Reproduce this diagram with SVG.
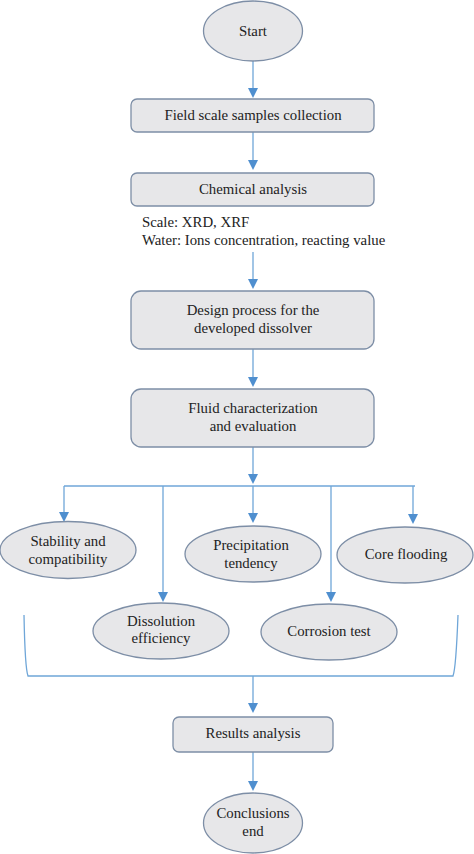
<svg xmlns="http://www.w3.org/2000/svg" width="474" height="854" viewBox="0 0 474 854">
<style>
.n{fill:#e7e7e9;stroke:#7d8ea6;stroke-width:1.3}
.t{font-family:'Liberation Serif','Times New Roman',serif;font-size:14.8px;fill:#222;text-anchor:middle}
.l{font-family:'Liberation Serif','Times New Roman',serif;font-size:14.8px;fill:#222}
.c{stroke:#6fa6d8;stroke-width:1.3;fill:none}
.a{fill:#4f8fcf}
</style>
<defs>
<path id="ah" d="M-5,-10 L5,-10 L0,0 Z"/>
</defs>
<rect width="474" height="854" fill="#fff"/>
<g id="connectors">
<line class="c" x1="253" y1="61" x2="253" y2="90"/><use href="#ah" class="a" x="253" y="98"/>
<line class="c" x1="253" y1="132" x2="253" y2="162"/><use href="#ah" class="a" x="253" y="170"/>
<line class="c" x1="253" y1="252" x2="253" y2="281"/><use href="#ah" class="a" x="253" y="289"/>
<line class="c" x1="253" y1="349" x2="253" y2="379"/><use href="#ah" class="a" x="253" y="387"/>
<line class="c" x1="253" y1="447" x2="253" y2="476"/><use href="#ah" class="a" x="253" y="484"/>
<line class="c" x1="64" y1="486" x2="415" y2="486"/>
<line class="c" x1="64" y1="486" x2="64" y2="514"/><use href="#ah" class="a" x="64" y="522"/>
<line class="c" x1="163" y1="486" x2="163" y2="594"/><use href="#ah" class="a" x="163" y="602"/>
<line class="c" x1="253" y1="486" x2="253" y2="515"/><use href="#ah" class="a" x="253" y="523"/>
<line class="c" x1="331" y1="486" x2="331" y2="594"/><use href="#ah" class="a" x="331" y="602"/>
<line class="c" x1="413" y1="486" x2="413" y2="516"/><use href="#ah" class="a" x="413" y="524"/>
<path class="c" d="M24,615 Q25,668 28,676 L453,676 Q456,668 458,615"/>
<line class="c" x1="253" y1="676" x2="253" y2="705"/><use href="#ah" class="a" x="253" y="713"/>
<line class="c" x1="253" y1="752" x2="253" y2="783"/><use href="#ah" class="a" x="253" y="791"/>
</g>
<g id="start">
<ellipse class="n" cx="253" cy="31" rx="49.5" ry="30"/>
<text class="t" x="253" y="36">Start</text>
</g>
<g id="field">
<rect class="n" x="131" y="99" width="243" height="33" rx="6"/>
<text class="t" x="253" y="119.5">Field scale samples collection</text>
</g>
<g id="chemical">
<rect class="n" x="131" y="173" width="243" height="33" rx="6"/>
<text class="t" x="253" y="194">Chemical analysis</text>
<text class="l" x="142" y="227">Scale: XRD, XRF</text>
<text class="l" x="142" y="245">Water: Ions concentration, reacting value</text>
</g>
<g id="design">
<rect class="n" x="131" y="291" width="243" height="58" rx="10"/>
<text class="t" x="253" y="315">Design process for the</text>
<text class="t" x="253" y="333">developed dissolver</text>
</g>
<g id="fluid">
<rect class="n" x="131" y="389" width="243" height="58" rx="10"/>
<text class="t" x="253" y="413">Fluid characterization</text>
<text class="t" x="253" y="431">and evaluation</text>
</g>
<g id="stability">
<ellipse class="n" cx="68" cy="550" rx="68" ry="28.5"/>
<text class="t" x="68" y="546">Stability and</text>
<text class="t" x="68" y="564">compatibility</text>
</g>
<g id="precipitation">
<ellipse class="n" cx="253" cy="554" rx="68" ry="28"/>
<text class="t" x="251" y="550">Precipitation</text>
<text class="t" x="251" y="568">tendency</text>
</g>
<g id="core">
<ellipse class="n" cx="405" cy="555" rx="68" ry="28"/>
<text class="t" x="406" y="559">Core flooding</text>
</g>
<g id="dissolution">
<ellipse class="n" cx="161" cy="631" rx="68" ry="28"/>
<text class="t" x="161" y="626">Dissolution</text>
<text class="t" x="161" y="643">efficiency</text>
</g>
<g id="corrosion">
<ellipse class="n" cx="329" cy="632" rx="68" ry="28"/>
<text class="t" x="329" y="636">Corrosion test</text>
</g>
<g id="results">
<rect class="n" x="173" y="717" width="160" height="35" rx="6"/>
<text class="t" x="253" y="738">Results analysis</text>
</g>
<g id="conclusions">
<ellipse class="n" cx="253" cy="823" rx="49.5" ry="30"/>
<text class="t" x="253" y="818">Conclusions</text>
<text class="t" x="253" y="836">end</text>
</g>
</svg>
